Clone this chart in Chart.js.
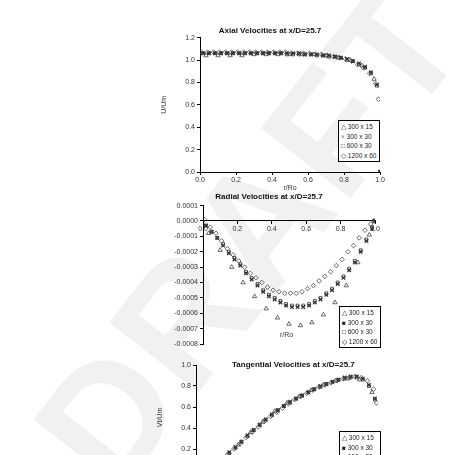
<!DOCTYPE html>
<html>
<head>
<meta charset="utf-8">
<script src="https://cdn.jsdelivr.net/npm/chart.js@4.4.0/dist/chart.umd.min.js"></script>
<style>
  html, body { margin: 0; width: 474px; height: 455px; overflow: hidden; background: #fff; font-family: "Liberation Sans", Arial, sans-serif; }
  canvas { position: absolute; left: 0; }
  .wm { position: absolute; left: 250px; top: 235px; transform: translate(-50%, -50%) rotate(-52deg); font: bold 165px "Liberation Sans", Arial, sans-serif; color: #f1f1f1; letter-spacing: 4px; white-space: nowrap; }
  .legend { position: absolute; border: 1px solid #000; background: #fff; font: 6.5px "Liberation Sans", Arial, sans-serif; color: #222; padding: 1px 2px; line-height: 9.5px; white-space: nowrap; width: 36px; }
  .lbl { position: absolute; font-size: 7px; color: #333; }
  .ttl { position: absolute; font: bold 8px "Liberation Sans", Arial, sans-serif; color: #111; }
</style>
</head>
<body>
<div class="wm">DRAFT</div>
<canvas id="axial"></canvas>
<canvas id="radial"></canvas>
<canvas id="tangential"></canvas>
<div class="legend" style="left:338px;top:120px;">&#9651; 300 x 15<br><span style="color:#b03fb0">&times;</span> 300 x 30<br>&#9633; 600 x 30<br>&#9671; 1200 x 60</div>
<div class="legend" style="left:339px;top:306px;">&#9651; 300 x 15<br>&#9632; 300 x 30<br>&#9633; 600 x 30<br>&#9671; 1200 x 60</div>
<div class="legend" style="left:339px;top:431px;">&#9651; 300 x 15<br>&#9632; 300 x 30<br>&#9633; 600 x 30<br>&#9671; 1200 x 60</div>
<div class="lbl" style="left:280px;top:331px;">r/Ro</div>
<div class="ttl" style="left:232px;top:360px;">Tangential Velocities at x/D=25.7</div>
<script>
const seriesNames = ["300 x 15", "300 x 30", "600 x 30", "1200 x 60"];

// radial positions for each mesh
const r15 = [0.033,0.1,0.167,0.233,0.3,0.367,0.433,0.5,0.567,0.633,0.7,0.767,0.833,0.9,0.967,1.0];
const r30 = [0.017,0.05,0.083,0.117,0.15,0.183,0.217,0.25,0.283,0.317,0.35,0.383,0.417,0.45,0.483,0.517,0.55,0.583,0.617,0.65,0.683,0.717,0.75,0.783,0.817,0.85,0.883,0.917,0.95,0.983,1.0];
const r60 = [0.008,0.042,0.075,0.108,0.142,0.175,0.208,0.242,0.275,0.308,0.342,0.375,0.408,0.442,0.475,0.508,0.542,0.575,0.608,0.642,0.675,0.708,0.742,0.775,0.808,0.842,0.875,0.908,0.942,0.975,0.992];

const axial15 = [1.04,1.04,1.04,1.04,1.05,1.05,1.05,1.05,1.05,1.05,1.04,1.02,1.00,0.95,0.83,0.0];
const axial30 = [1.06,1.06,1.06,1.06,1.06,1.06,1.06,1.06,1.06,1.06,1.06,1.06,1.06,1.06,1.06,1.06,1.06,1.05,1.05,1.05,1.04,1.04,1.03,1.02,1.01,0.99,0.97,0.94,0.89,0.78,0.0];
const axial600 = [1.06,1.06,1.06,1.06,1.06,1.06,1.06,1.06,1.06,1.06,1.06,1.06,1.06,1.06,1.05,1.05,1.05,1.05,1.05,1.04,1.04,1.03,1.03,1.02,1.00,0.99,0.96,0.93,0.88,0.77,0.0];
const axial60 = [1.07,1.07,1.07,1.07,1.07,1.07,1.07,1.07,1.07,1.07,1.07,1.07,1.07,1.07,1.07,1.06,1.06,1.06,1.06,1.05,1.05,1.04,1.03,1.02,1.01,0.99,0.96,0.93,0.88,0.79,0.65];

const radial15 = [-0.00008,-0.00019,-0.00030,-0.00040,-0.00049,-0.00057,-0.00063,-0.00067,-0.00068,-0.00066,-0.00061,-0.00053,-0.00042,-0.00027,-0.00009,0.0];
const radial30 = [-0.00003,-0.00007,-0.00011,-0.00016,-0.00021,-0.00025,-0.00029,-0.00034,-0.00038,-0.00042,-0.00046,-0.00049,-0.00051,-0.00053,-0.00055,-0.00056,-0.00056,-0.00056,-0.00055,-0.00053,-0.00051,-0.00048,-0.00045,-0.00041,-0.00037,-0.00032,-0.00027,-0.00020,-0.00013,-0.00005,0.0];
const radial600 = [-0.00003,-0.00007,-0.00011,-0.00015,-0.00020,-0.00024,-0.00028,-0.00033,-0.00037,-0.00041,-0.00045,-0.00048,-0.00050,-0.00052,-0.00054,-0.00055,-0.00055,-0.00055,-0.00054,-0.00052,-0.00050,-0.00047,-0.00044,-0.00040,-0.00036,-0.00031,-0.00026,-0.00019,-0.00012,-0.00004,0.0];
const radial60 = [0.00001,-0.00004,-0.00008,-0.00013,-0.00018,-0.00022,-0.00026,-0.00030,-0.00034,-0.00037,-0.00040,-0.00043,-0.00045,-0.00046,-0.00047,-0.00047,-0.00047,-0.00046,-0.00044,-0.00042,-0.00039,-0.00036,-0.00033,-0.00029,-0.00025,-0.00020,-0.00016,-0.00011,-0.00006,-0.00002,0.0];

const tang15 = [0.01,0.05,0.12,0.24,0.36,0.46,0.56,0.64,0.70,0.76,0.81,0.85,0.87,0.86,0.74,0.0];
const tang30 = [0.01,0.03,0.05,0.08,0.12,0.17,0.22,0.27,0.33,0.38,0.43,0.48,0.53,0.57,0.61,0.65,0.68,0.71,0.74,0.77,0.80,0.82,0.84,0.86,0.88,0.89,0.89,0.87,0.81,0.68,0.0];
const tang600 = [0.01,0.03,0.05,0.08,0.12,0.16,0.21,0.27,0.32,0.38,0.43,0.48,0.52,0.57,0.61,0.64,0.68,0.71,0.74,0.77,0.79,0.82,0.84,0.86,0.87,0.88,0.88,0.86,0.80,0.67,0.0];
const tang60 = [0.0,0.02,0.04,0.07,0.11,0.15,0.20,0.25,0.31,0.36,0.41,0.46,0.51,0.55,0.59,0.63,0.67,0.70,0.73,0.76,0.79,0.81,0.83,0.85,0.87,0.88,0.89,0.88,0.85,0.77,0.64];

const pts = (xs, ys) => xs.map((x, i) => ({ x: x, y: ys[i] }));

function makeSets(v15, v30, v600, v60) {
  return [
    { label: seriesNames[0], data: pts(r15, v15), pointStyle: 'triangle', pointRadius: 2.5, borderColor: '#444', backgroundColor: 'rgba(0,0,0,0)', borderWidth: 0.8 },
    { label: seriesNames[1], data: pts(r30, v30), pointStyle: 'crossRot', pointRadius: 2.5, borderColor: '#333', backgroundColor: '#333', borderWidth: 1.3 },
    { label: seriesNames[2], data: pts(r30, v600), pointStyle: 'rect', pointRadius: 2, borderColor: '#333', backgroundColor: 'rgba(0,0,0,0)', borderWidth: 0.8 },
    { label: seriesNames[3], data: pts(r60, v60), pointStyle: 'rectRot', pointRadius: 2.3, borderColor: '#444', backgroundColor: 'rgba(0,0,0,0)', borderWidth: 0.8 }
  ];
}

const tickFont = { size: 7, family: '"Liberation Sans", Arial' };
const axisGrid = { drawOnChartArea: false, tickLength: 3, color: '#000' };

function yAxis(min, max, step, digits, title) {
  return {
    min: min, max: max,
    afterFit: s => { s.width = 40; },
    border: { color: '#000' },
    grid: axisGrid,
    title: { display: !!title, text: title, font: tickFont, color: '#333', padding: 0 },
    ticks: { stepSize: step, font: tickFont, color: '#333', padding: 2,
      callback: v => Math.abs(v) < 1e-10 ? (0).toFixed(digits) : v.toFixed(digits) }
  };
}

function xAxis(extra) {
  return Object.assign({
    type: 'linear', min: 0, max: 1,
    border: { color: '#000' },
    grid: axisGrid,
    ticks: { stepSize: 0.2, font: tickFont, color: '#333', padding: 1, maxRotation: 0,
      callback: v => v.toFixed(1) }
  }, extra);
}

function setup(id, top, height) {
  const c = document.getElementById(id);
  c.style.top = top + 'px';
  c.style.width = '474px';
  c.style.height = height + 'px';
  return c;
}

new Chart(setup('axial', 24, 168), {
  type: 'scatter',
  data: { datasets: makeSets(axial15, axial30, axial600, axial60) },
  options: {
    responsive: false, animation: false,
    layout: { padding: { left: 160, right: 94, top: 0, bottom: 0 } },
    plugins: {
      legend: { display: false }, tooltip: { enabled: false },
      title: { display: true, text: 'Axial Velocities at x/D=25.7', font: { size: 8, weight: 'bold' }, color: '#111', padding: { top: 2, bottom: 2 } }
    },
    scales: {
      x: xAxis({ afterFit: s => { s.height = 20; }, title: { display: true, text: 'r/Ro', font: tickFont, color: '#333', padding: 0 } }),
      y: yAxis(0, 1.2, 0.2, 1, 'U/Um')
    }
  }
});

new Chart(setup('radial', 190, 162), {
  type: 'scatter',
  data: { datasets: makeSets(radial15, radial30, radial600, radial60) },
  options: {
    responsive: false, animation: false,
    layout: { padding: { left: 163, right: 99, top: 0, bottom: 8 } },
    plugins: {
      legend: { display: false }, tooltip: { enabled: false },
      title: { display: true, text: 'Radial Velocities at x/D=25.7', font: { size: 8, weight: 'bold' }, color: '#111', padding: { top: 2, bottom: 4 } }
    },
    scales: {
      x: xAxis({ position: { y: 0 } }),
      y: yAxis(-0.0008, 0.0001, 0.0001, 4, '')
    }
  }
});

new Chart(setup('tangential', 358, 140), {
  type: 'scatter',
  data: { datasets: makeSets(tang15, tang30, tang600, tang60) },
  options: {
    responsive: false, animation: false,
    layout: { padding: { left: 156, right: 96, top: 7, bottom: 8 } },
    plugins: { legend: { display: false }, tooltip: { enabled: false } },
    scales: {
      x: xAxis({ afterFit: s => { s.height = 20; } }),
      y: yAxis(0, 1.0, 0.1, 1, 'Vt/Um')
    }
  }
});
</script>
</body>
</html>
